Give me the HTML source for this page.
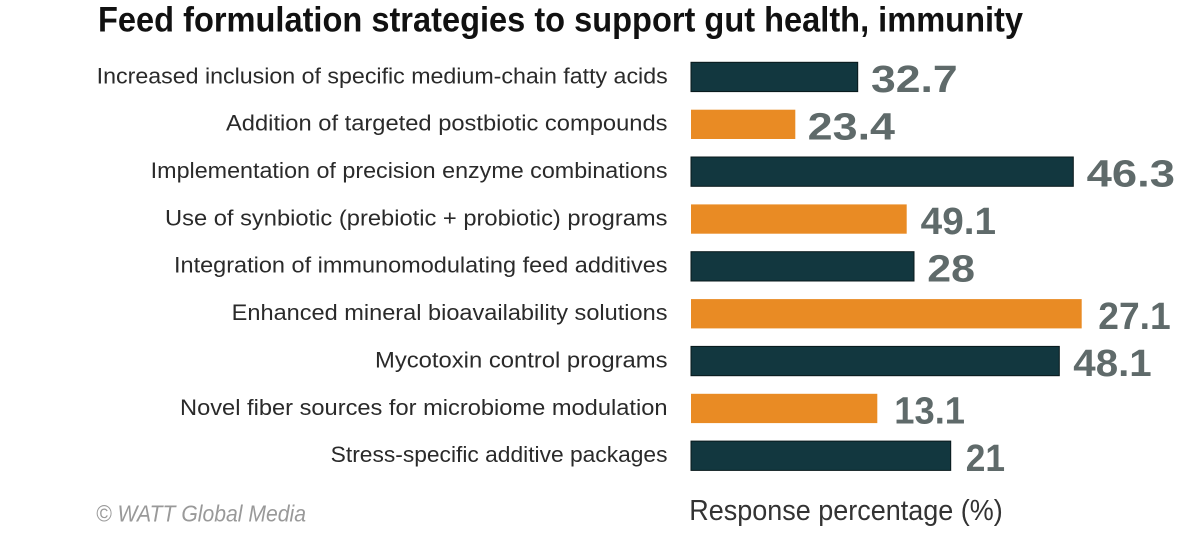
<!DOCTYPE html>
<html>
<head>
<meta charset="utf-8">
<style>
  html,body{margin:0;padding:0;background:#ffffff;}
  svg{display:block;}
  .lbl{font-family:"Liberation Sans",sans-serif;font-size:22px;fill:#2a2a2a;}
  .val{font-family:"Liberation Sans",sans-serif;font-size:38px;font-weight:bold;fill:#5f6a6a;}
</style>
</head>
<body>
<svg width="1200" height="545" viewBox="0 0 1200 545" xmlns="http://www.w3.org/2000/svg">
  <rect width="1200" height="545" fill="#ffffff"/>
  <text x="98" y="31.7" font-family="Liberation Sans, sans-serif" font-size="35" font-weight="bold" fill="#111" textLength="925" lengthAdjust="spacingAndGlyphs">Feed formulation strategies to support gut health, immunity</text>

  <!-- labels -->
  <text class="lbl" x="96.7" y="83.3" textLength="571" lengthAdjust="spacingAndGlyphs">Increased inclusion of specific medium-chain fatty acids</text>
  <text class="lbl" x="226" y="130.7" textLength="441.5" lengthAdjust="spacingAndGlyphs">Addition of targeted postbiotic compounds</text>
  <text class="lbl" x="150.7" y="178" textLength="516.8" lengthAdjust="spacingAndGlyphs">Implementation of precision enzyme combinations</text>
  <text class="lbl" x="165" y="225.4" textLength="502.5" lengthAdjust="spacingAndGlyphs">Use of synbiotic (prebiotic + probiotic) programs</text>
  <text class="lbl" x="174" y="272.7" textLength="493.5" lengthAdjust="spacingAndGlyphs">Integration of immunomodulating feed additives</text>
  <text class="lbl" x="231.7" y="320.1" textLength="435.8" lengthAdjust="spacingAndGlyphs">Enhanced mineral bioavailability solutions</text>
  <text class="lbl" x="375" y="367.4" textLength="292.5" lengthAdjust="spacingAndGlyphs">Mycotoxin control programs</text>
  <text class="lbl" x="180" y="414.8" textLength="487.5" lengthAdjust="spacingAndGlyphs">Novel fiber sources for microbiome modulation</text>
  <text class="lbl" x="330.7" y="462.1" textLength="336.8" lengthAdjust="spacingAndGlyphs">Stress-specific additive packages</text>

  <!-- bars -->
  <rect x="691" y="62.3" width="166.7" height="29.3" fill="#12373f" stroke="#08181b" stroke-width="1"/>
  <rect x="691" y="109.7" width="104.3" height="29.3" fill="#e98b24"/>
  <rect x="691" y="157" width="382.3" height="29.3" fill="#12373f" stroke="#08181b" stroke-width="1"/>
  <rect x="691" y="204.4" width="215.7" height="29.3" fill="#e98b24"/>
  <rect x="691" y="251.7" width="223" height="29.3" fill="#12373f" stroke="#08181b" stroke-width="1"/>
  <rect x="691" y="299.1" width="390.7" height="29.3" fill="#e98b24"/>
  <rect x="691" y="346.4" width="368.3" height="29.3" fill="#12373f" stroke="#08181b" stroke-width="1"/>
  <rect x="691" y="393.8" width="186.3" height="29.3" fill="#e98b24"/>
  <rect x="691" y="441.1" width="259.7" height="29.3" fill="#12373f" stroke="#08181b" stroke-width="1"/>

  <!-- values -->
  <text class="val" x="871" y="92" textLength="86.7" lengthAdjust="spacingAndGlyphs">32.7</text>
  <text class="val" x="807.7" y="139.4" textLength="87.3" lengthAdjust="spacingAndGlyphs">23.4</text>
  <text class="val" x="1086.7" y="186.7" textLength="88.3" lengthAdjust="spacingAndGlyphs">46.3</text>
  <text class="val" x="920.7" y="234.1" textLength="75.3" lengthAdjust="spacingAndGlyphs">49.1</text>
  <text class="val" x="927.3" y="281.4" textLength="47.7" lengthAdjust="spacingAndGlyphs">28</text>
  <text class="val" x="1098.3" y="328.8" textLength="72.4" lengthAdjust="spacingAndGlyphs">27.1</text>
  <text class="val" x="1073.3" y="376.1" textLength="78.4" lengthAdjust="spacingAndGlyphs">48.1</text>
  <text class="val" x="894.3" y="423.5" textLength="70.7" lengthAdjust="spacingAndGlyphs">13.1</text>
  <text class="val" x="965.7" y="470.8" textLength="39.3" lengthAdjust="spacingAndGlyphs">21</text>

  <!-- footer -->
  <text x="96" y="521.7" font-family="Liberation Sans, sans-serif" font-size="23" font-style="italic" fill="#999999" textLength="210" lengthAdjust="spacingAndGlyphs">© WATT Global Media</text>
  <text x="689.3" y="520" font-family="Liberation Sans, sans-serif" font-size="29" fill="#333333" textLength="313.4" lengthAdjust="spacingAndGlyphs">Response percentage (%)</text>
</svg>
</body>
</html>
